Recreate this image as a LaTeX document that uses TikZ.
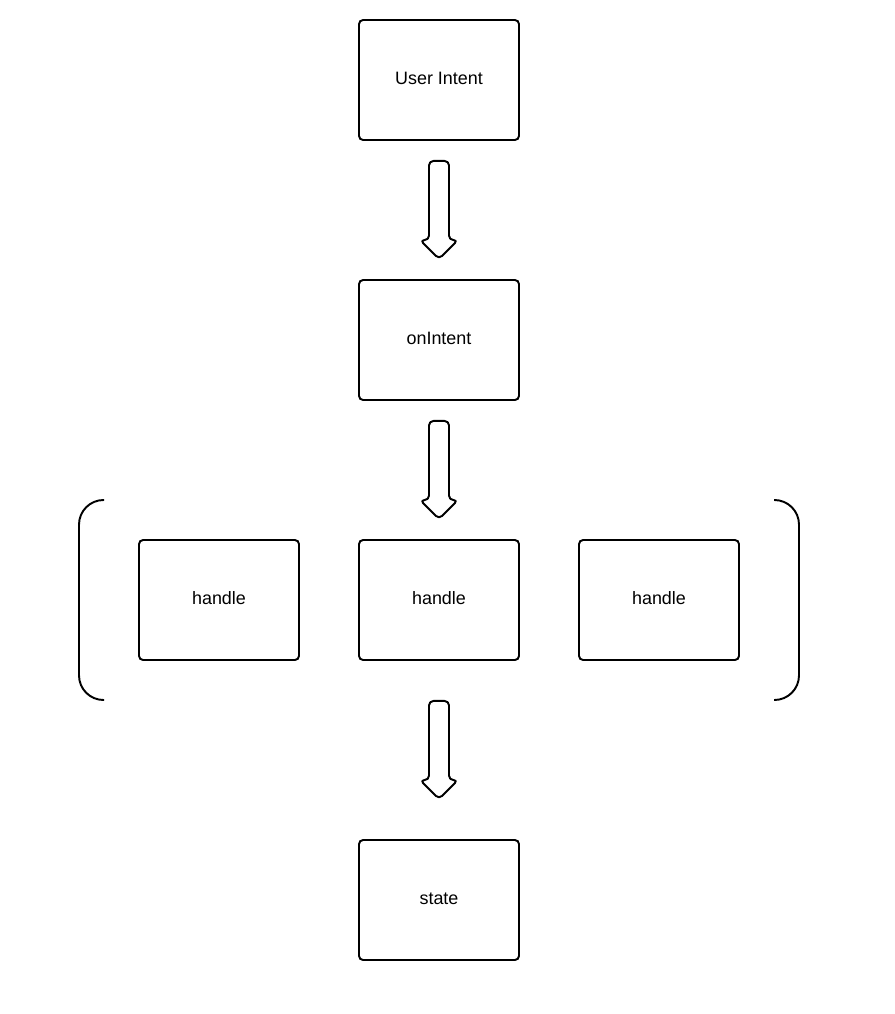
\documentclass[tikz,border=0pt]{standalone}
\usepackage{fontspec}
\setmainfont{Liberation Sans}
\usetikzlibrary{calc}
\tikzset{
  stepbox/.style={draw, line width=1.1pt, rounded corners=2.3pt, minimum width=3.2cm, minimum height=2.4cm,
    text height=7.5pt, text depth=2.8pt, font=\fontsize{10.2}{12}\selectfont},
  hollowarrow/.style={draw, line width=1.1pt, rounded corners=2.5pt, line join=round},
  bracket/.style={line width=1.1pt, rounded corners=14pt}
}
% shaft top (#1) and tip (#2)
\newcommand{\fatarrow}[2]{%
  \draw[hollowarrow] ($(#1)+(-10,0)$) -- ($(#2)+(-10,-19)$) -- ($(#2)+(-19,-19)$) -- (#2)
    -- ($(#2)+(19,-19)$) -- ($(#2)+(10,-19)$) -- ($(#1)+(10,0)$) -- cycle;}

\begin{document}
\begin{tikzpicture}[x=0.02cm,y=-0.02cm]
  \useasboundingbox (0,0) rectangle (894,1014);

  \node[stepbox] (intent) at (439,80) {User Intent};
  \node[stepbox] (onintent) at (439,340) {onIntent};
  \node[stepbox] (hleft) at (219,600) {handle};
  \node[stepbox] (hmid) at (439,600) {handle};
  \node[stepbox] (hright) at (659,600) {handle};
  \node[stepbox] (state) at (439,900) {state};

  % brackets round the handlers
  \draw[bracket] (104,500) -- (79,500) -- (79,700) -- (104,700);
  \draw[bracket] (774,500) -- (799,500) -- (799,700) -- (774,700);

  \coordinate (a1) at ($(intent.south)+(0,20)$);
  \coordinate (t1) at ($(onintent.north)+(0,-20)$);
  \coordinate (a2) at ($(onintent.south)+(0,20)$);
  \coordinate (t2) at ($(hmid.north)+(0,-20)$);
  \coordinate (a3) at ($(hmid.south)+(0,40)$);
  \coordinate (t3) at ($(state.north)+(0,-40)$);

  \fatarrow{a1}{t1}
  \fatarrow{a2}{t2}
  \fatarrow{a3}{t3}
\end{tikzpicture}
\end{document}
